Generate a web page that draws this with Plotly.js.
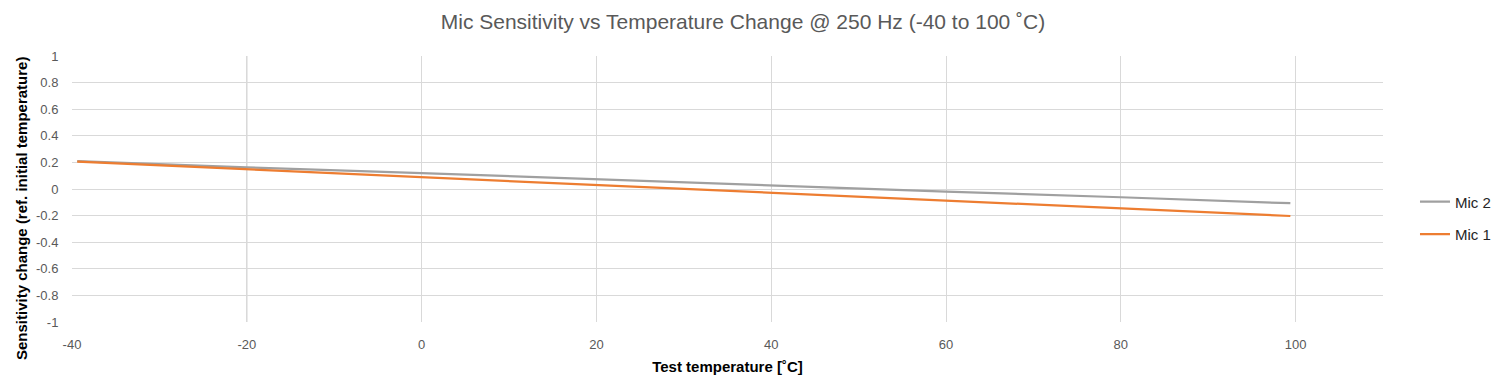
<!DOCTYPE html>
<html>
<head>
<meta charset="utf-8">
<script src="https://cdn.plot.ly/plotly-3.0.1.min.js"></script>
<style>html,body{margin:0;padding:0;background:#fff;}#chart{width:1497px;height:385px;}</style>
</head>
<body>
<div id="chart"></div>
<script>
const temperature = [-39.4, -20, 0, 20, 40, 60, 80, 99.4];
const mic2 = [0.21, 0.162, 0.12, 0.073, 0.027, -0.02, -0.062, -0.107];
const mic1 = [0.205, 0.148, 0.088, 0.033, -0.03, -0.088, -0.146, -0.203];
const xTicks = [-40, -20, 0, 20, 40, 60, 80, 100];
const yTicks = [-1, -0.8, -0.6, -0.4, -0.2, 0, 0.2, 0.4, 0.6, 0.8, 1];

const traces = [
  {x: temperature, y: mic2, name: 'Mic 2', mode: 'lines', type: 'scatter', legendgroup: 'g2',
   line: {color: '#a0a0a0', width: 2.25}},
  {x: temperature, y: mic1, name: 'Mic 1', mode: 'lines', type: 'scatter', legendgroup: 'g1',
   line: {color: '#ed7d31', width: 2.25}}
];

const font = "Liberation Sans, Arial, sans-serif";
const layout = {
  width: 1497, height: 385,
  margin: {l: 72, r: 114, t: 56, b: 63, autoexpand: false},
  paper_bgcolor: '#fff', plot_bgcolor: '#fff',
  showlegend: true,
  title: {text: 'Mic Sensitivity vs Temperature Change @ 250 Hz (-40 to 100 ˚C)',
          x: 743 / 1497, xref: 'container', xanchor: 'center', y: 0.943, yanchor: 'middle',
          font: {family: font, size: 21, color: '#595959'}},
  xaxis: {range: [-40, 110], tickvals: xTicks, ticktext: xTicks.map(String),
          showgrid: true, gridcolor: '#d9d9d9', gridwidth: 1, zeroline: false,
          showline: false, ticks: 'outside', ticklen: 10, tickcolor: 'rgba(0,0,0,0)',
          automargin: false,
          tickfont: {family: font, size: 13, color: '#595959'},
          title: {text: '<b>Test temperature [˚C]</b>', standoff: 10,
                  font: {family: font, size: 15, color: '#000'}}},
  yaxis: {range: [-1, 1], tickvals: yTicks, ticktext: yTicks.map(v => String(v)),
          showgrid: true, gridcolor: '#d9d9d9', gridwidth: 1, zeroline: false,
          showline: false, ticks: 'outside', ticklen: 10, tickcolor: 'rgba(0,0,0,0)',
          automargin: false,
          tickfont: {family: font, size: 13, color: '#595959'}},
  annotations: [
    {text: '<b>Sensitivity change (ref. initial temperature)</b>', textangle: -90,
     xref: 'paper', yref: 'paper', x: (21 - 72) / 1311, y: (322 - 209) / 266,
     xanchor: 'center', yanchor: 'middle', showarrow: false,
     font: {family: font, size: 15, color: '#000'}}
  ],
  shapes: [
    {type: 'line', xref: 'x', yref: 'paper', x0: -20, x1: -20, y0: 0, y1: 1,
     line: {color: '#b8b8b8', width: 1}, layer: 'below'}
  ],
  legend: {x: 1.0244, xanchor: 'left', y: 0.391, yanchor: 'middle',
           font: {family: font, size: 15, color: '#262626'},
           tracegroupgap: 10, bgcolor: 'rgba(0,0,0,0)'}
};

Plotly.newPlot('chart', traces, layout, {displayModeBar: false, staticPlot: true});
</script>
</body>
</html>
